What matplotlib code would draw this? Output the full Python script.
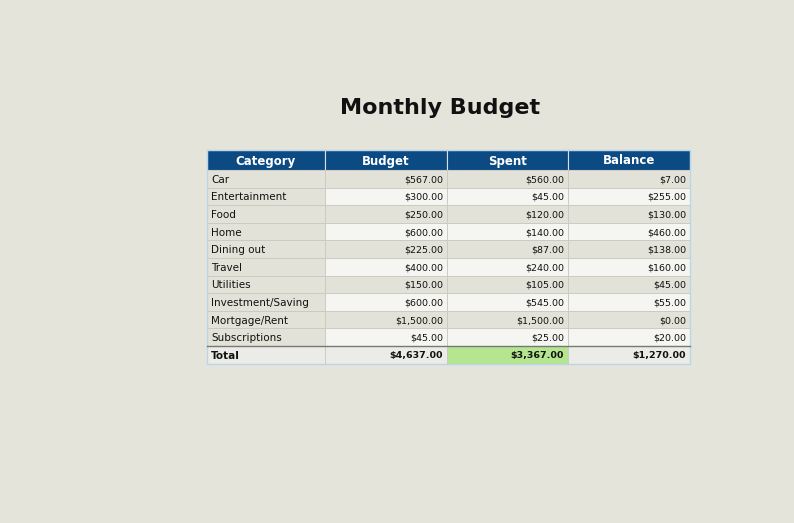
import matplotlib
matplotlib.use("Agg")
import matplotlib.pyplot as plt
from matplotlib.patches import Rectangle

categories = ["Car", "Entertainment", "Food", "Home", "Dining out", "Travel",
              "Utilities", "Investment/Saving", "Mortgage/Rent", "Subscriptions"]
budget = [567, 300, 250, 600, 225, 400, 150, 600, 1500, 45]
spent = [560, 45, 120, 140, 87, 240, 105, 545, 1500, 25]
headers = ["Category", "Budget", "Spent", "Balance"]

BG = "#e5e4da"
HEAD = "#0b4a82"
fmt = lambda v: "${:,.2f}".format(v)

fig = plt.figure(figsize=(7.94, 5.23), dpi=100, facecolor=BG)
ax = fig.add_axes([0, 0, 1, 1])
ax.set_xlim(0, 794)
ax.set_ylim(523, 0)
ax.axis("off")

ax.text(440, 108, "Monthly Budget", ha="center", va="center",
        fontsize=16, fontweight="bold", color="#111111")

col_x = [207, 325, 447, 568, 690]
head_top, head_h, row_h = 150, 20, 17.6

# header
for c, h in enumerate(headers):
    ax.add_patch(Rectangle((col_x[c], head_top), col_x[c + 1] - col_x[c], head_h,
                           facecolor=HEAD, edgecolor="#d8dde6", lw=0.8))
    ax.text((col_x[c] + col_x[c + 1]) / 2, head_top + head_h / 2 + 1, h,
            ha="center", va="center", color="white", fontsize=8.5, fontweight="bold")

rows = []
for cat, b, s in zip(categories, budget, spent):
    rows.append([cat, fmt(b), fmt(s), fmt(b - s)])
total = ["Total", fmt(sum(budget)), fmt(sum(spent)), fmt(sum(budget) - sum(spent))]

for r, vals in enumerate(rows + [total]):
    y = head_top + head_h + r * row_h
    is_total = r == len(rows)
    for c, v in enumerate(vals):
        if is_total:
            fc = "#b5e58f" if c == 2 else "#ebebe8"
        elif c == 0 or r % 2 == 0:
            fc = "#e3e2d8"
        else:
            fc = "#f5f5f1"
        ax.add_patch(Rectangle((col_x[c], y), col_x[c + 1] - col_x[c], row_h,
                               facecolor=fc, edgecolor="#c9c9c0", lw=0.6))
        if c == 0:
            ax.text(col_x[c] + 4, y + row_h / 2 + 1, v, ha="left", va="center",
                    fontsize=7.5, color="#111111", fontweight="bold" if is_total else "normal")
        else:
            ax.text(col_x[c + 1] - 4, y + row_h / 2 + 1, v, ha="right", va="center",
                    fontsize=6.8, color="#111111", fontweight="bold" if is_total else "normal")

# separator above total and outer border
y_tot = head_top + head_h + len(rows) * row_h
ax.plot([col_x[0], col_x[-1]], [y_tot, y_tot], color="#777777", lw=1)
ax.add_patch(Rectangle((col_x[0], head_top), col_x[-1] - col_x[0],
                       y_tot + row_h - head_top, facecolor="none",
                       edgecolor="#b9d6ea", lw=1))

fig.savefig("out.png", dpi=100, facecolor=BG)
